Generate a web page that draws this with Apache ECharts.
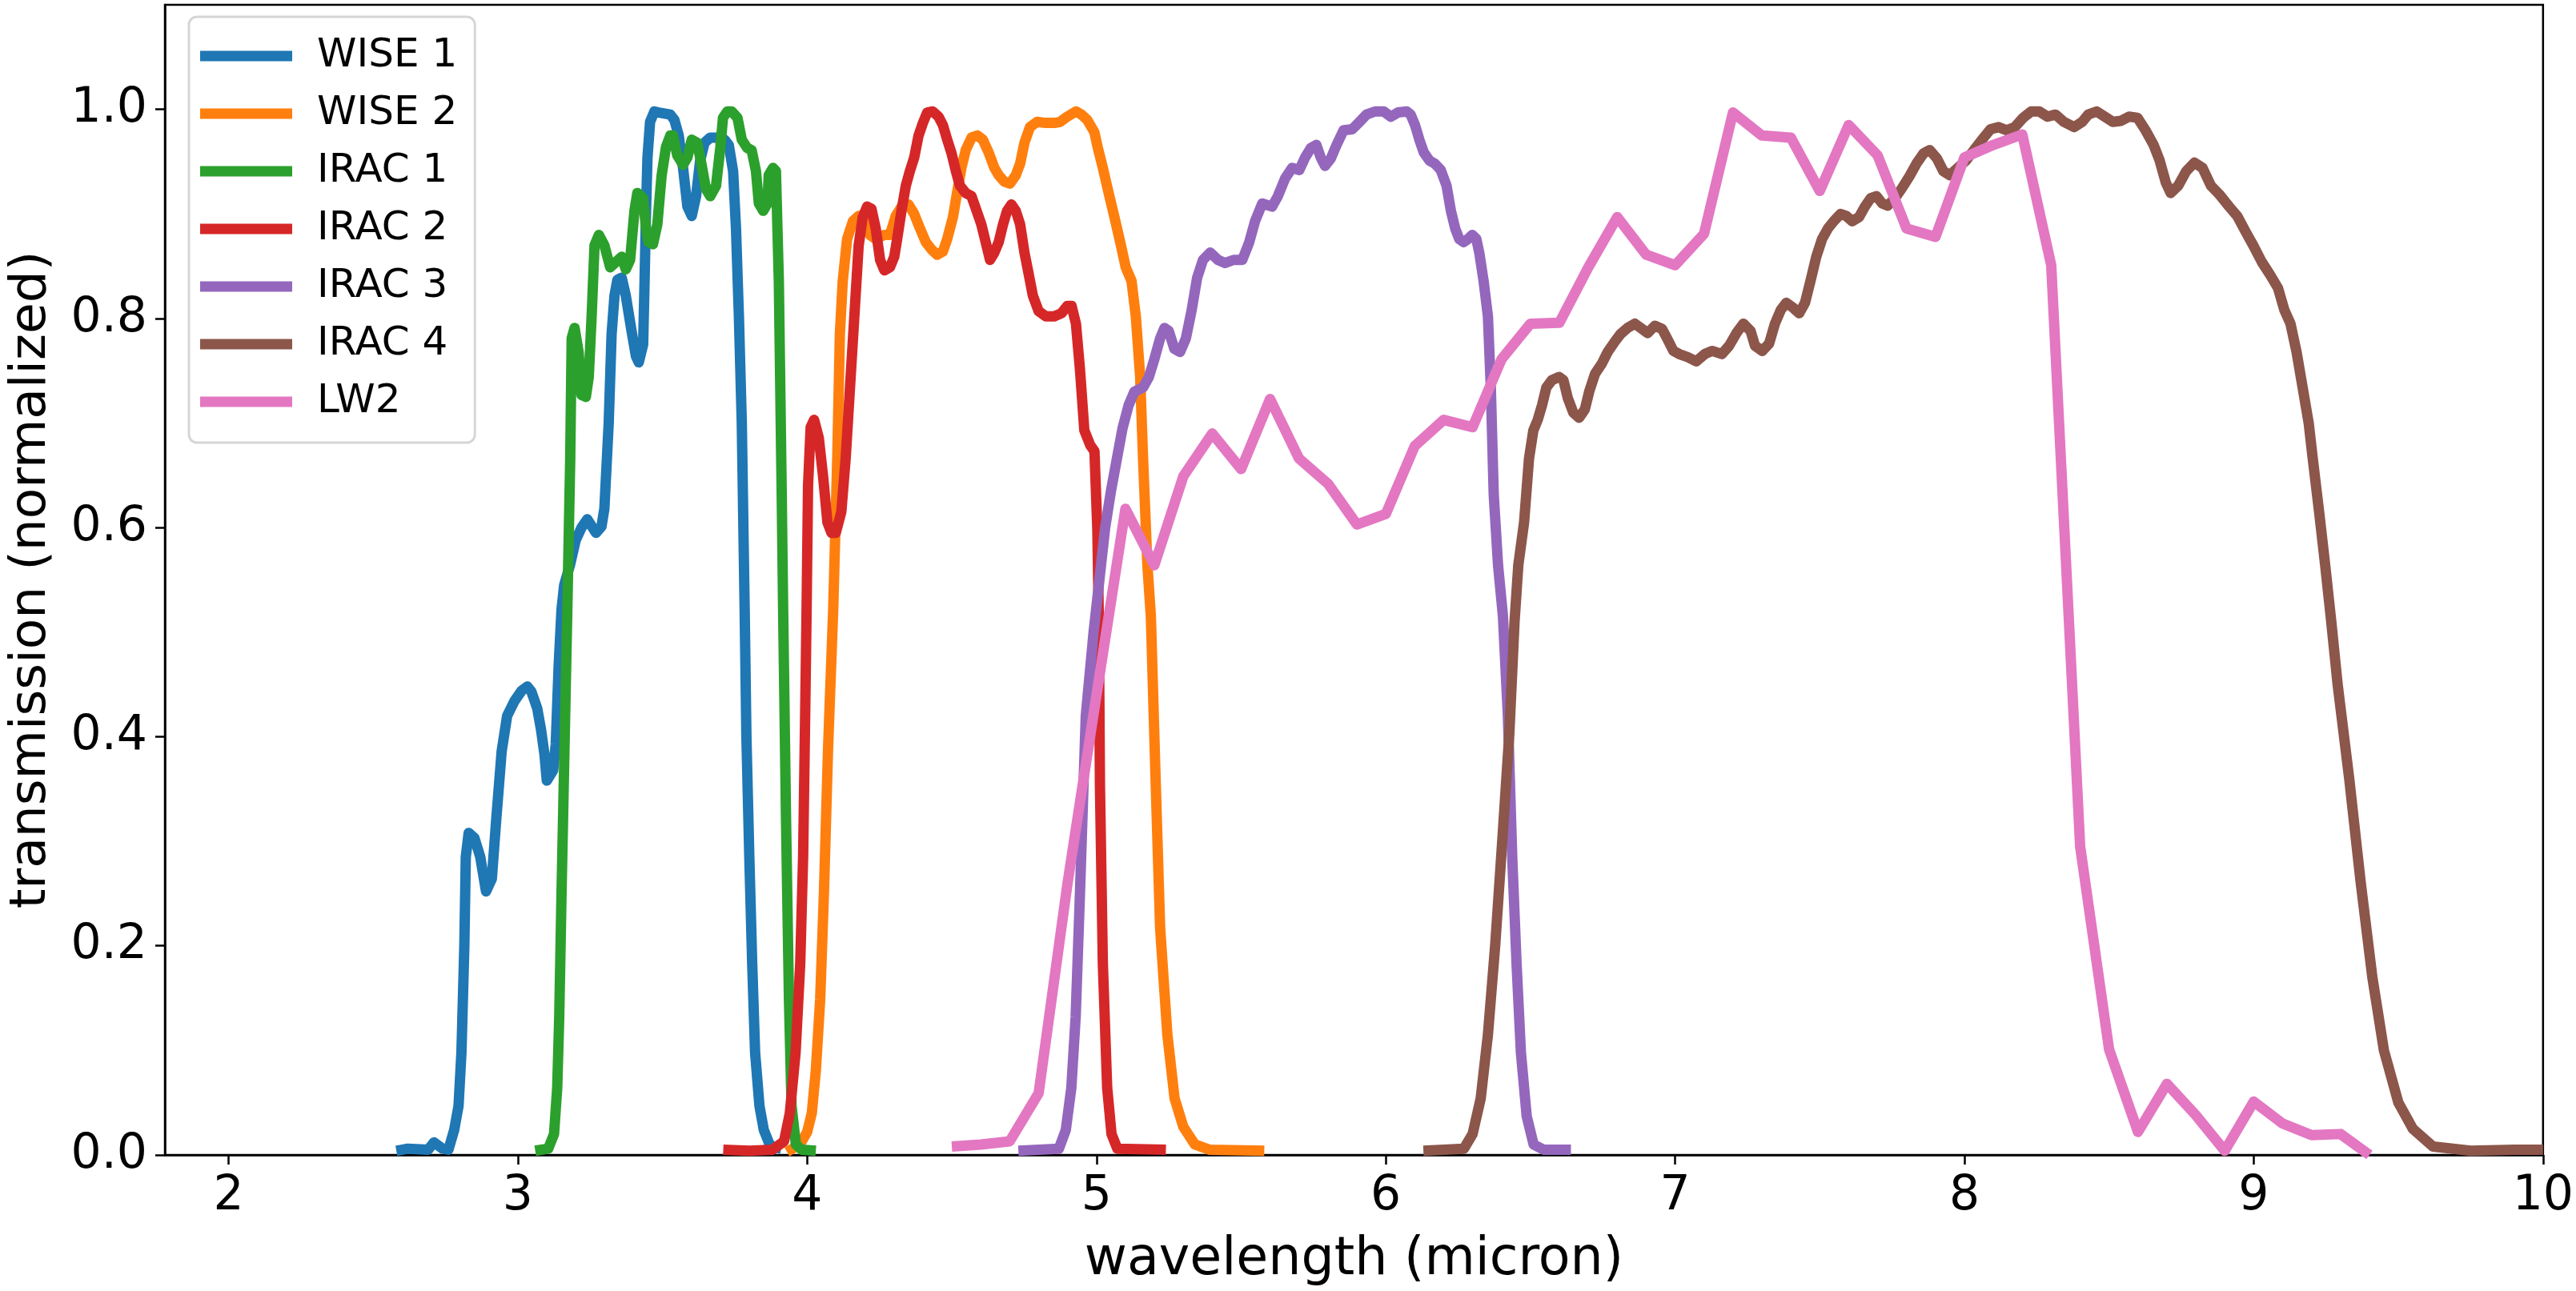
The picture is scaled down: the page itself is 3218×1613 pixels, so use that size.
<!DOCTYPE html>
<html>
<head>
<meta charset="utf-8">
<script src="https://cdn.jsdelivr.net/npm/echarts@6/dist/echarts.min.js"></script>
<style>
  html, body { margin: 0; padding: 0; background: #fff; }
  #chart { width: 3218px; height: 1613px; }
</style>
</head>
<body>
<div id="chart"></div>
<script>
// band names, in drawing order
const bandNames = ["WISE 1", "WISE 2", "IRAC 1", "IRAC 2", "IRAC 3", "IRAC 4", "LW2"];
const bandColors = ["#1f77b4", "#ff7f0e", "#2ca02c", "#d62728", "#9467bd", "#8c564b", "#e377c2"];

// tick labels
const xTicks = [2, 3, 4, 5, 6, 7, 8, 9, 10];
const yTicks = [0, 0.2, 0.4, 0.6, 0.8, 1.0];

// [wavelength (micron), transmission]
const wise1 = [[2.58,0.004],[2.62,0.006],[2.69,0.005],[2.71,0.012],[2.74,0.006],[2.76,0.005],[2.78,0.024],[2.795,0.047],[2.805,0.098],[2.815,0.200],[2.82,0.285],[2.83,0.308],[2.85,0.303],[2.87,0.285],[2.89,0.252],[2.91,0.264],[2.925,0.32],[2.944,0.386],[2.963,0.420],[2.988,0.434],[3.013,0.444],[3.033,0.448],[3.047,0.443],[3.067,0.427],[3.08,0.407],[3.092,0.383],[3.10,0.358],[3.122,0.368],[3.131,0.393],[3.141,0.468],[3.151,0.522],[3.16,0.545],[3.18,0.564],[3.20,0.588],[3.22,0.600],[3.24,0.608],[3.27,0.595],[3.289,0.601],[3.299,0.618],[3.314,0.700],[3.324,0.785],[3.334,0.822],[3.344,0.837],[3.359,0.839],[3.373,0.822],[3.393,0.788],[3.408,0.764],[3.418,0.758],[3.433,0.775],[3.438,0.836],[3.443,0.903],[3.448,0.954],[3.457,0.988],[3.472,0.998],[3.487,0.997],[3.527,0.995],[3.541,0.990],[3.556,0.975],[3.571,0.944],[3.586,0.907],[3.601,0.898],[3.616,0.917],[3.630,0.951],[3.645,0.968],[3.665,0.973],[3.690,0.973],[3.714,0.971],[3.729,0.966],[3.744,0.941],[3.754,0.886],[3.764,0.802],[3.774,0.700],[3.784,0.52],[3.79,0.40],[3.80,0.285],[3.81,0.183],[3.82,0.098],[3.835,0.047],[3.85,0.024],[3.87,0.010],[3.89,0.007],[3.91,0.006]];

const wise2 = [[3.93,0.003],[3.975,0.010],[4.00,0.022],[4.016,0.040],[4.03,0.081],[4.045,0.149],[4.058,0.251],[4.072,0.387],[4.09,0.522],[4.104,0.666],[4.113,0.785],[4.123,0.836],[4.138,0.876],[4.158,0.893],[4.178,0.898],[4.202,0.897],[4.217,0.880],[4.237,0.876],[4.267,0.880],[4.286,0.880],[4.306,0.898],[4.331,0.909],[4.35,0.909],[4.37,0.900],[4.39,0.886],[4.41,0.873],[4.43,0.866],[4.449,0.861],[4.469,0.864],[4.484,0.876],[4.504,0.897],[4.518,0.920],[4.533,0.944],[4.548,0.961],[4.568,0.973],[4.588,0.975],[4.607,0.971],[4.627,0.959],[4.647,0.944],[4.662,0.937],[4.681,0.931],[4.701,0.929],[4.721,0.937],[4.736,0.948],[4.751,0.968],[4.77,0.983],[4.795,0.988],[4.825,0.987],[4.854,0.987],[4.874,0.988],[4.899,0.993],[4.929,0.998],[4.948,0.995],[4.968,0.990],[4.993,0.978],[5.003,0.965],[5.022,0.944],[5.042,0.920],[5.062,0.897],[5.082,0.873],[5.101,0.849],[5.121,0.836],[5.136,0.802],[5.151,0.744],[5.161,0.666],[5.176,0.564],[5.188,0.515],[5.205,0.353],[5.22,0.217],[5.245,0.115],[5.27,0.054],[5.30,0.027],[5.34,0.010],[5.39,0.005],[5.58,0.004]];

const irac1 = [[3.06,0.004],[3.105,0.006],[3.125,0.020],[3.136,0.064],[3.143,0.132],[3.151,0.251],[3.161,0.387],[3.171,0.522],[3.181,0.666],[3.186,0.781],[3.196,0.791],[3.21,0.768],[3.22,0.727],[3.235,0.725],[3.245,0.744],[3.255,0.802],[3.265,0.870],[3.28,0.880],[3.299,0.870],[3.319,0.849],[3.339,0.854],[3.359,0.859],[3.373,0.847],[3.388,0.856],[3.403,0.903],[3.413,0.920],[3.433,0.915],[3.443,0.886],[3.452,0.873],[3.467,0.871],[3.482,0.890],[3.497,0.937],[3.512,0.964],[3.527,0.975],[3.536,0.975],[3.551,0.956],[3.571,0.947],[3.586,0.954],[3.601,0.971],[3.62,0.968],[3.635,0.947],[3.65,0.924],[3.665,0.917],[3.685,0.927],[3.70,0.964],[3.709,0.992],[3.724,0.998],[3.739,0.998],[3.759,0.992],[3.774,0.971],[3.793,0.963],[3.808,0.961],[3.823,0.941],[3.833,0.910],[3.848,0.903],[3.863,0.910],[3.867,0.937],[3.882,0.944],[3.892,0.941],[3.902,0.836],[3.912,0.632],[3.917,0.52],[3.927,0.319],[3.937,0.149],[3.946,0.047],[3.961,0.010],[3.981,0.005],[4.03,0.004]];

const irac2 = [[3.71,0.005],[3.80,0.004],[3.88,0.005],[3.92,0.013],[3.94,0.040],[3.96,0.098],[3.976,0.183],[3.986,0.285],[3.993,0.420],[3.998,0.522],[4.003,0.640],[4.012,0.696],[4.024,0.703],[4.04,0.686],[4.055,0.649],[4.07,0.605],[4.084,0.595],[4.099,0.595],[4.118,0.615],[4.133,0.666],[4.148,0.734],[4.163,0.802],[4.178,0.870],[4.192,0.897],[4.207,0.907],[4.222,0.905],[4.237,0.886],[4.252,0.856],[4.267,0.846],[4.286,0.849],[4.301,0.859],[4.311,0.876],[4.326,0.903],[4.341,0.927],[4.355,0.941],[4.37,0.954],[4.385,0.975],[4.40,0.987],[4.415,0.997],[4.434,0.998],[4.454,0.993],[4.469,0.985],[4.484,0.971],[4.499,0.958],[4.514,0.941],[4.528,0.927],[4.548,0.920],[4.568,0.917],[4.583,0.905],[4.602,0.890],[4.617,0.873],[4.632,0.856],[4.647,0.863],[4.662,0.873],[4.677,0.890],[4.691,0.903],[4.706,0.909],[4.721,0.903],[4.736,0.890],[4.751,0.863],[4.766,0.842],[4.78,0.822],[4.80,0.807],[4.825,0.802],[4.854,0.802],[4.879,0.805],[4.899,0.812],[4.914,0.812],[4.929,0.795],[4.943,0.751],[4.958,0.693],[4.978,0.679],[4.993,0.673],[5.003,0.598],[5.008,0.515],[5.012,0.353],[5.022,0.183],[5.037,0.064],[5.052,0.020],[5.072,0.006],[5.24,0.005]];

const irac3 = [[4.73,0.004],[4.87,0.006],[4.894,0.024],[4.913,0.064],[4.928,0.132],[4.943,0.251],[4.963,0.420],[4.99,0.50],[5.01,0.55],[5.03,0.60],[5.05,0.635],[5.07,0.665],[5.09,0.695],[5.111,0.717],[5.131,0.730],[5.161,0.734],[5.181,0.744],[5.20,0.761],[5.22,0.781],[5.235,0.791],[5.25,0.788],[5.269,0.771],[5.289,0.768],[5.309,0.781],[5.329,0.808],[5.348,0.839],[5.368,0.856],[5.393,0.863],[5.42,0.856],[5.444,0.853],[5.474,0.856],[5.504,0.856],[5.528,0.873],[5.548,0.893],[5.573,0.910],[5.607,0.907],[5.627,0.917],[5.652,0.934],[5.676,0.944],[5.701,0.942],[5.721,0.954],[5.741,0.963],[5.76,0.966],[5.775,0.954],[5.79,0.946],[5.81,0.953],[5.83,0.966],[5.854,0.980],[5.884,0.981],[5.909,0.988],[5.933,0.995],[5.963,0.998],[5.993,0.998],[6.017,0.993],[6.042,0.997],[6.072,0.998],[6.086,0.995],[6.101,0.985],[6.116,0.971],[6.131,0.959],[6.151,0.951],[6.17,0.948],[6.19,0.942],[6.21,0.927],[6.225,0.903],[6.24,0.886],[6.254,0.876],[6.269,0.873],[6.284,0.876],[6.299,0.880],[6.313,0.876],[6.323,0.863],[6.338,0.836],[6.353,0.802],[6.363,0.734],[6.373,0.632],[6.388,0.564],[6.405,0.515],[6.422,0.420],[6.437,0.285],[6.452,0.183],[6.467,0.098],[6.487,0.037],[6.511,0.010],[6.546,0.005],[6.64,0.005]];

const irac4 = [[6.13,0.004],[6.27,0.006],[6.30,0.020],[6.328,0.054],[6.353,0.115],[6.378,0.200],[6.403,0.302],[6.427,0.403],[6.445,0.51],[6.458,0.564],[6.478,0.605],[6.495,0.666],[6.51,0.693],[6.525,0.703],[6.54,0.717],[6.555,0.734],[6.574,0.741],[6.599,0.744],[6.614,0.741],[6.629,0.724],[6.648,0.710],[6.668,0.705],[6.688,0.713],[6.703,0.730],[6.723,0.747],[6.747,0.757],[6.767,0.768],[6.792,0.778],[6.811,0.785],[6.836,0.791],[6.861,0.795],[6.886,0.790],[6.905,0.786],[6.93,0.793],[6.955,0.790],[6.974,0.780],[6.994,0.769],[7.014,0.766],[7.044,0.763],[7.073,0.759],[7.103,0.766],[7.128,0.769],[7.162,0.766],[7.187,0.774],[7.212,0.786],[7.236,0.795],[7.261,0.788],[7.276,0.774],[7.301,0.769],[7.325,0.776],[7.345,0.795],[7.365,0.808],[7.384,0.815],[7.409,0.810],[7.429,0.805],[7.449,0.815],[7.468,0.836],[7.488,0.859],[7.508,0.876],[7.528,0.886],[7.548,0.893],[7.572,0.900],[7.592,0.898],[7.612,0.893],[7.636,0.897],[7.656,0.907],[7.676,0.915],[7.696,0.917],[7.716,0.910],[7.735,0.908],[7.76,0.915],[7.785,0.925],[7.81,0.936],[7.834,0.948],[7.859,0.958],[7.88,0.961],[7.905,0.953],[7.927,0.941],[7.949,0.937],[7.977,0.944],[8.005,0.951],[8.033,0.961],[8.061,0.971],[8.09,0.981],[8.118,0.983],[8.146,0.980],[8.174,0.983],[8.203,0.992],[8.231,0.998],[8.259,0.998],[8.287,0.993],[8.315,0.995],[8.344,0.988],[8.379,0.983],[8.407,0.988],[8.428,0.995],[8.457,0.998],[8.485,0.993],[8.513,0.988],[8.541,0.989],[8.569,0.993],[8.598,0.992],[8.626,0.980],[8.654,0.966],[8.675,0.951],[8.696,0.930],[8.713,0.920],[8.739,0.927],[8.767,0.941],[8.795,0.949],[8.823,0.944],[8.852,0.927],[8.88,0.919],[8.915,0.907],[8.943,0.898],[8.972,0.883],[9.00,0.869],[9.028,0.854],[9.056,0.842],[9.084,0.829],[9.106,0.808],[9.127,0.795],[9.148,0.768],[9.169,0.734],[9.19,0.700],[9.204,0.666],[9.226,0.615],[9.247,0.564],[9.268,0.51],[9.29,0.45],[9.33,0.36],[9.37,0.26],[9.41,0.17],[9.45,0.10],[9.50,0.05],[9.55,0.025],[9.62,0.008],[9.75,0.004],[9.90,0.005],[10.0,0.005]];

const lw2 = [[4.5,0.008],[4.6,0.010],[4.7,0.013],[4.8,0.059],[4.9,0.26],[5.0,0.44],[5.1,0.618],[5.2,0.564],[5.3,0.649],[5.4,0.690],[5.5,0.656],[5.6,0.723],[5.7,0.666],[5.8,0.642],[5.9,0.603],[6.0,0.613],[6.1,0.678],[6.2,0.703],[6.3,0.696],[6.4,0.761],[6.5,0.795],[6.6,0.796],[6.7,0.849],[6.8,0.897],[6.9,0.861],[7.0,0.851],[7.1,0.881],[7.2,0.997],[7.3,0.975],[7.4,0.973],[7.5,0.922],[7.6,0.985],[7.7,0.956],[7.8,0.886],[7.9,0.878],[8.0,0.954],[8.1,0.966],[8.2,0.976],[8.3,0.851],[8.4,0.295],[8.5,0.101],[8.6,0.022],[8.7,0.068],[8.8,0.038],[8.9,0.004],[9.0,0.051],[9.1,0.030],[9.2,0.019],[9.3,0.020],[9.4,0.0]];

const bandData = [wise1, wise2, irac1, irac2, irac3, irac4, lw2];

const font = "DejaVu Sans";
const chart = echarts.init(document.getElementById("chart"));

chart.setOption({
  animation: false,
  backgroundColor: "#fff",
  grid: {
    left: 205,
    right: 41,
    top: 6,
    bottom: 166,
    show: true,
    borderColor: "#000",
    borderWidth: 2.5
  },
  legend: {
    data: bandNames,
    orient: "vertical",
    left: 236,
    top: 21,
    icon: "rect",
    itemWidth: 115,
    itemHeight: 13,
    itemGap: 22,
    padding: [24, 22, 26, 14],
    backgroundColor: "rgba(255,255,255,0.8)",
    borderColor: "#d6d6d6",
    borderWidth: 3,
    borderRadius: 10,
    textStyle: {
      fontFamily: font,
      fontSize: 50,
      color: "#000",
      padding: [0, 0, 0, 26]
    }
  },
  xAxis: {
    type: "value",
    min: 1.78,
    max: 10,
    name: "wavelength (micron)",
    nameLocation: "middle",
    nameGap: 100,
    nameTextStyle: { fontFamily: font, fontSize: 65, color: "#000" },
    axisLine: { show: true, onZero: false, lineStyle: { color: "#000", width: 2.5 } },
    axisTick: { show: true, length: 12, lineStyle: { color: "#000", width: 2.5 }, customValues: xTicks },
    axisLabel: { fontFamily: font, fontSize: 60, color: "#000", margin: 22, customValues: xTicks },
    splitLine: { show: false }
  },
  yAxis: {
    type: "value",
    min: 0,
    max: 1.1,
    name: "transmission (normalized)",
    nameLocation: "middle",
    nameGap: 135,
    nameRotate: 90,
    nameTextStyle: { fontFamily: font, fontSize: 63, color: "#000" },
    axisLine: { show: true, lineStyle: { color: "#000", width: 2.5 } },
    axisTick: { show: true, length: 12, lineStyle: { color: "#000", width: 2.5 }, customValues: yTicks },
    axisLabel: {
      fontFamily: font, fontSize: 60, color: "#000", margin: 22,
      customValues: yTicks,
      formatter: function (v) { return v.toFixed(1); }
    },
    splitLine: { show: false }
  },
  series: bandNames.map(function (name, i) {
    return {
      name: name,
      type: "line",
      data: bandData[i],
      showSymbol: false,
      symbol: "none",
      clip: true,
      color: bandColors[i],
      lineStyle: { color: bandColors[i], width: 13, join: "round" },
      emphasis: { disabled: true }
    };
  })
});
</script>
</body>
</html>
